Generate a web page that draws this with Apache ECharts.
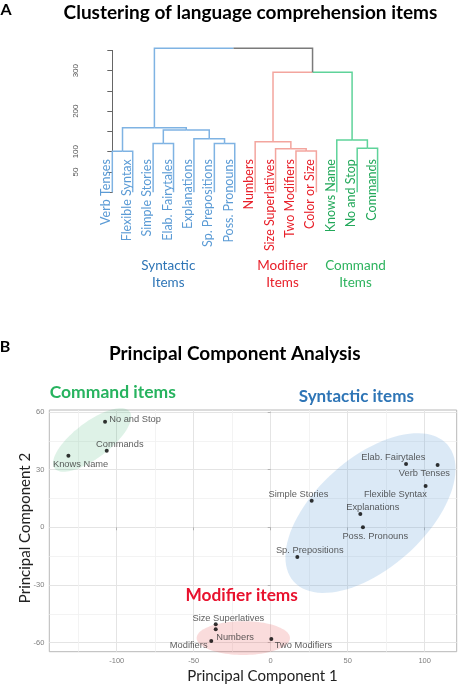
<!DOCTYPE html>
<html><head><meta charset="utf-8">
<script src="https://cdn.jsdelivr.net/npm/echarts@6/dist/echarts.min.js"></script>
<style>html,body{margin:0;padding:0;background:#fff}#c{width:458px;height:685px}</style>
</head><body><div id="c"></div>
<script>
// ---------- Panel A: dendrogram data ----------
const leafNames = ['Verb Tenses','Flexible Syntax','Simple Stories','Elab. Fairytales','Explanations','Sp. Prepositions','Poss. Pronouns','Numbers','Size Superlatives','Two Modifiers','Color or Size','Knows Name','No and Stop','Commands'];
const leafClusters = [0,0,0,0,0,0,0,1,1,1,1,2,2,2];
// hclust-style merges: negative = leaf (1-based), positive = earlier merge (1-based)
const mergePairs = [[-1,-2],[-10,-11],[-9,2],[-13,-14],[-3,-4],[-6,-7],[-8,3],[-12,4],[-5,6],[5,9],[1,10],[7,8],[11,12]];
const mergeHeights = [101,101.7,107.4,108.4,120,120,124.7,128.9,132,153.6,159,296,355];
const dendroTicks = [0,50,100,150,200,250,300,350];
const dendroTickLabels = [50,100,200,300];
const clusterNames = ['Syntactic\nItems','Modifier\nItems','Command\nItems'];

// ---------- Panel B: PCA data ----------
const pcaItems = ['Knows Name','Commands','No and Stop','Elab. Fairytales','Verb Tenses','Flexible Syntax','Simple Stories','Explanations','Poss. Pronouns','Sp. Prepositions','Size Superlatives','Numbers','Modifiers','Two Modifiers'];
const pc1 = [-131.4,-106.5,-107.6,87.9,108.4,100.6,26.6,58.2,59.9,17.3,-35.7,-35.7,-38.6,0.4];
const pc2 = [37.2,39.8,54.9,32.9,32.4,21.5,13.8,6.9,0,-15.4,-50.4,-53,-59.1,-58.1];
const pcaXTicks = [-100,-50,0,50,100];
const pcaXMinor = [-125,-75,-25,25,75];
const pcaYTicks = [-60,-30,0,30,60];
const pcaYMinor = [-45,-15,15,45];
// group ellipses (data units): centre, first semi-axis vector, second semi-axis vector
const ellipseCenters = [[-116.0,45.4],[64.8,7.4],[-17.8,-57.6]];
const ellipseAxisA = [[24.4,14.7],[49.9,35.6],[30.3,0]];
const ellipseAxisB = [[7.0,-7.5],[23.7,-21.4],[0,8.8]];

// ---------- styles ----------
const branchColors = ['#7FB3E3','#F3A59E','#5FD39A'];
const rootColor = '#7a7a7a';
const leafLabelColors = ['#5B9BD5','#E8202A','#22A85A'];
const clusterLabelColors = ['#2E75B6','#E8202A','#2DB35E'];
const ellipseFills = ['rgba(60,179,113,0.17)','rgba(91,155,213,0.22)','rgba(230,80,80,0.2)'];
const labelOffsets = [[12.2,8.6],[13.1,-6.4],[30,-2.4],[-12.7,-6.7],[-13.2,8.3],[-30.2,8],[-13.2,-6.7],[12.5,-6.7],[12.3,8.7],[12.4,-6.3],[12.6,-6],[19.3,8],[-22.6,4.7],[32.2,6.7]];
const F = 'Lato, "Open Sans", sans-serif';
const FA = '"Liberation Sans", Arial, sans-serif';

// build dendrogram segments from the merge table
const nodes = [];
function node(ref){ if(ref<0){const i=-ref-1;return {x:i,h:0,c:leafClusters[i]};} return nodes[ref-1]; }
const segs = [];
mergePairs.forEach((p,k)=>{
  const a=node(p[0]), b=node(p[1]), h=mergeHeights[k], x=(a.x+b.x)/2;
  segs.push({coords:[[a.x,a.h],[a.x,h],[x,h]], lineStyle:{color: a.c>=0?branchColors[a.c]:rootColor}});
  segs.push({coords:[[b.x,b.h],[b.x,h],[x,h]], lineStyle:{color: b.c>=0?branchColors[b.c]:rootColor}});
  nodes.push({x:x,h:h,c:(a.c===b.c?a.c:-1)});
});

const chart = echarts.init(document.getElementById('c'), null, {renderer:'canvas'});
const option = {
  animation:false,
  backgroundColor:'#fff',
  grid:[
    {left:91.9, top:50.4, width:306.1, height:141.8},
    {left:49.3, top:410, width:407.4, height:241.7, show:true, borderColor:'#b8b8b8', borderWidth:1, backgroundColor:'#fff'}
  ],
  xAxis:[
    {gridIndex:0, type:'value', min:-1, max:14, show:false},
    {gridIndex:1, type:'value', min:-143.8, max:120.8, position:'bottom',
      axisLine:{show:false},
      axisTick:{show:true, length:3, lineStyle:{color:'#b3b3b3'}, customValues:pcaXTicks},
      axisLabel:{customValues:pcaXTicks, fontSize:7.5, color:'#7f7f7f', fontFamily:FA, margin:5},
      splitLine:{show:true, lineStyle:{color:'#e4e4e4', width:1}}},
    {gridIndex:1, type:'value', min:-143.8, max:120.8, position:'top',
      axisLine:{show:false}, axisLabel:{show:false},
      axisTick:{show:false, customValues:pcaXMinor},
      splitLine:{show:true, lineStyle:{color:'#f0f0f0', width:0.8}}}
  ],
  yAxis:[
    {gridIndex:0, type:'value', min:0, max:350, position:'left',
      axisLine:{show:true, lineStyle:{color:'#666', width:1}},
      axisTick:{show:true, length:5, lineStyle:{color:'#666'}, customValues:dendroTicks},
      axisLabel:{customValues:dendroTickLabels, rotate:90, fontSize:8, color:'#555', fontFamily:FA, margin:12},
      splitLine:{show:false}},
    {gridIndex:1, type:'value', min:-64.7, max:61, position:'left',
      axisLine:{show:false},
      axisTick:{show:true, length:3, lineStyle:{color:'#b3b3b3'}, customValues:pcaYTicks},
      axisLabel:{customValues:pcaYTicks, fontSize:7.5, color:'#7f7f7f', fontFamily:FA, margin:5},
      splitLine:{show:true, lineStyle:{color:'#e4e4e4', width:1}}},
    {gridIndex:1, type:'value', min:-64.7, max:61, position:'right',
      axisLine:{show:false}, axisLabel:{show:false},
      axisTick:{show:false, customValues:pcaYMinor},
      splitLine:{show:true, lineStyle:{color:'#f0f0f0', width:0.8}}}
  ],
  series:[
    {type:'lines', coordinateSystem:'cartesian2d', xAxisIndex:0, yAxisIndex:0, polyline:true, clip:false, silent:true,
      lineStyle:{width:1.5, opacity:1}, data:segs},
    {type:'custom', xAxisIndex:0, yAxisIndex:0, silent:true,
      data: leafNames.map((n,i)=>[i,0]),
      renderItem:function(params, api){
        const i = params.dataIndex; const p = api.coord([api.value(0), api.value(1)]);
        return {type:'text', x:p[0]-6, y:p[1]-33, rotation:Math.PI/2,
          style:{text:leafNames[i], fill:leafLabelColors[leafClusters[i]], fontSize:12.5, fontFamily:F, align:'right', verticalAlign:'middle'}};
      }},
    {type:'custom', xAxisIndex:1, yAxisIndex:1, silent:true, z:1,
      data: ellipseCenters,
      renderItem:function(params, api){
        const i = params.dataIndex; const c = ellipseCenters[i], A = ellipseAxisA[i], B = ellipseAxisB[i];
        const pts = [];
        for(let k=0;k<96;k++){const t=2*Math.PI*k/96, ct=Math.cos(t), st=Math.sin(t);
          pts.push(api.coord([c[0]+A[0]*ct+B[0]*st, c[1]+A[1]*ct+B[1]*st]));}
        return {type:'polygon', shape:{points:pts}, style:{fill:ellipseFills[i]}};
      }},
    {type:'scatter', xAxisIndex:1, yAxisIndex:1, symbolSize:4, z:3, silent:true,
      itemStyle:{color:'#000'},
      label:{show:true, formatter:'{b}', position:'inside', align:'center', verticalAlign:'middle', fontSize:9.3, color:'#333', fontFamily:FA},
      data: pcaItems.map((n,i)=>({name:n, value:[pc1[i],pc2[i]], label:{offset:labelOffsets[i]}}))}
  ],
  graphic:[
    {type:'text', x:6, y:10, style:{text:'A', font:'bold 16px '+F, fill:'#000', align:'center', verticalAlign:'middle'}},
    {type:'text', x:250.5, y:13, style:{text:'Clustering of language comprehension items', font:'bold 19px '+F, fill:'#000', align:'center', verticalAlign:'middle'}},
    {type:'text', x:168.3, y:274, style:{text:clusterNames[0], font:'13.5px '+F, lineHeight:17, fill:clusterLabelColors[0], align:'center', verticalAlign:'middle'}},
    {type:'text', x:282.5, y:274, style:{text:clusterNames[1], font:'13.5px '+F, lineHeight:17, fill:clusterLabelColors[1], align:'center', verticalAlign:'middle'}},
    {type:'text', x:355.5, y:274, style:{text:clusterNames[2], font:'13.5px '+F, lineHeight:17, fill:clusterLabelColors[2], align:'center', verticalAlign:'middle'}},
    {type:'text', x:5, y:347, style:{text:'B', font:'bold 16px '+F, fill:'#000', align:'center', verticalAlign:'middle'}},
    {type:'text', x:234.7, y:354, style:{text:'Principal Component Analysis', font:'bold 19px '+F, fill:'#000', align:'center', verticalAlign:'middle'}},
    {type:'text', x:112.8, y:392, z:10, style:{text:'Command items', font:'bold 17.5px '+F, fill:'#27B35F', align:'center', verticalAlign:'middle'}},
    {type:'text', x:356.3, y:396.5, z:10, style:{text:'Syntactic items', font:'bold 17px '+F, fill:'#2E75B6', align:'center', verticalAlign:'middle'}},
    {type:'text', x:241.7, y:595, z:10, style:{text:'Modifier items', font:'bold 17.3px '+F, fill:'#E8112D', align:'center', verticalAlign:'middle'}},
    {type:'text', x:262.5, y:676, style:{text:'Principal Component 1', font:'15px '+F, fill:'#222', align:'center', verticalAlign:'middle'}},
    {type:'text', x:25, y:528, rotation:Math.PI/2, style:{text:'Principal Component 2', font:'15px '+F, fill:'#222', align:'center', verticalAlign:'middle'}}
  ]
};
chart.setOption(option);
</script></body></html>
